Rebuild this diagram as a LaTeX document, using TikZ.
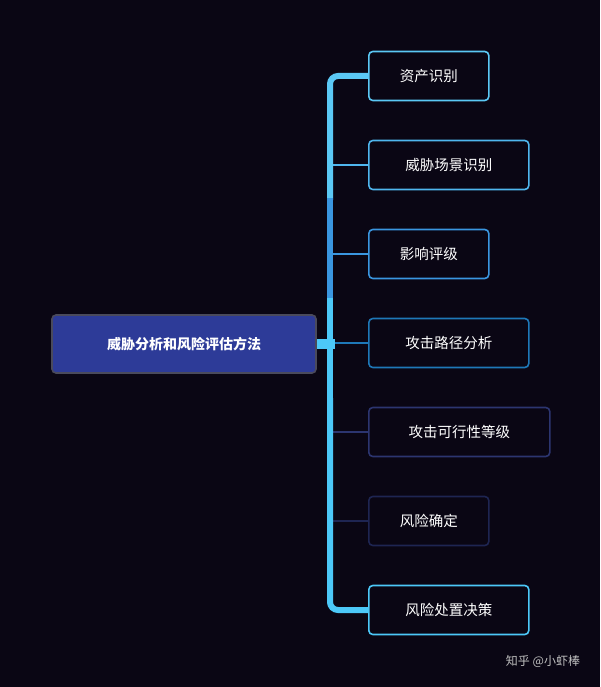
\documentclass[tikz,border=0pt]{standalone}
\usepackage{fontspec}
\setmainfont{Noto Sans CJK SC}
\begin{document}
\begin{tikzpicture}[x=1pt,y=-1pt,
 leaf/.style={draw,line width=1.6pt,rounded corners=4pt,minimum height=49pt,anchor=west,text=white,font=\fontsize{14.5}{16}\selectfont,inner xsep=0pt,fill=bgc},
 br/.style={line width=2pt}]
\definecolor{bgc}{HTML}{0A0614}
\definecolor{cA}{HTML}{5BC8F5}
\definecolor{cB}{HTML}{4FB6EE}
\definecolor{cC}{HTML}{3A96E0}
\definecolor{cD}{HTML}{1E78B8}
\definecolor{cE}{HTML}{2C3570}
\definecolor{cF}{HTML}{1E2552}
\definecolor{cG}{HTML}{4CC8F8}
\definecolor{rootf}{HTML}{2D3B98}
\definecolor{rootb}{HTML}{4A4A5C}
\fill[bgc] (0,0) rectangle (600,687);
\node[draw=rootb,fill=rootf,line width=1.6pt,rounded corners=4pt,minimum width=264pt,minimum height=58pt,text=white,font=\bfseries\fontsize{14}{16}\selectfont] (root) at (184,344) {威胁分析和风险评估方法};
\node[leaf,draw=cA,minimum width=120pt] (n1) at (368,76) {资产识别};
\node[leaf,draw=cB,minimum width=160pt] (n2) at (368,165) {威胁场景识别};
\node[leaf,draw=cC,minimum width=120pt] (n3) at (368,254) {影响评级};
\node[leaf,draw=cD,minimum width=160pt] (n4) at (368,343) {攻击路径分析};
\node[leaf,draw=cE,minimum width=181pt] (n5) at (368,432) {攻击可行性等级};
\node[leaf,draw=cF,minimum width=120pt] (n6) at (368,521) {风险确定};
\node[leaf,draw=cG,minimum width=160pt] (n7) at (368,610) {风险处置决策};
\coordinate (t) at (330,76); \coordinate (b) at (330,610);
\draw[br,draw=cB] (330,165) -- (n2.west);
\draw[br,draw=cC] (330,254) -- (n3.west);
\draw[br,draw=cD] (330,343) -- (n4.west);
\draw[br,draw=cE] (330,432) -- (n5.west);
\draw[br,draw=cF] (330,521) -- (n6.west);
\draw[line width=6pt,draw=cA,rounded corners=8pt] (n1.west) -- (t) -- (330,200);
\draw[line width=6pt,draw=cC] (330,198) -- (330,300);
\draw[line width=6pt,draw=cG] (330,298) -- (330,400);
\draw[line width=6pt,draw=cG,rounded corners=8pt] (330,398) -- (b) -- (n7.west);
\fill[cG] (root.east) ++(0,-5) rectangle ++(18,10);
\node[text=white!75!black,font=\fontsize{12}{14}\selectfont] (wm) at (543,661) {知乎 @小虾棒};
\end{tikzpicture}
\end{document}
